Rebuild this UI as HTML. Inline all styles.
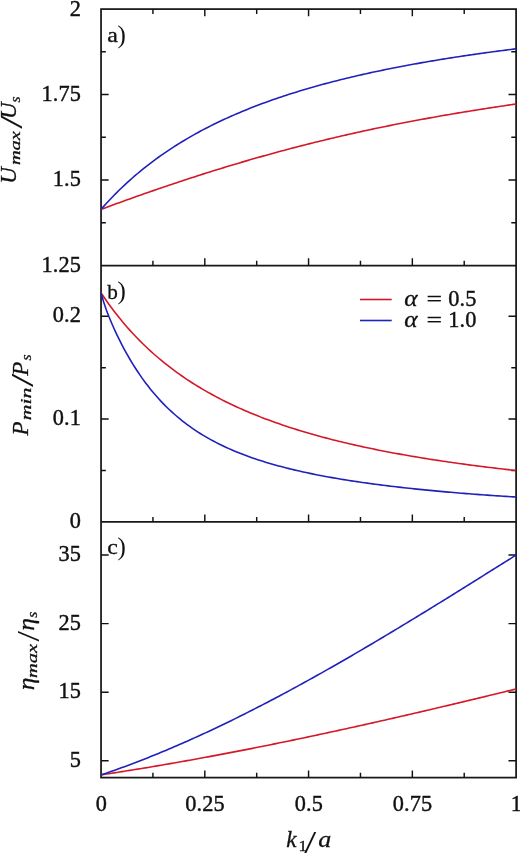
<!DOCTYPE html>
<html lang="en"><head><meta charset="utf-8"><title>Figure</title>
<style>html,body{margin:0;padding:0;background:#fff}svg{display:block}text{font-family:"Liberation Serif","DejaVu Serif",serif;fill:#111;stroke:#111;stroke-width:.3px}.n{font-size:22.3px;letter-spacing:.15px;stroke-width:.42px}.i{font-style:italic}</style></head><body>
<svg width="520" height="853" viewBox="0 0 520 853">
<rect width="520" height="853" fill="#fff"/>
<g fill="none" stroke="#181818" stroke-width="1.75">
<rect x="101.05" y="9.1" width="415.05" height="768.50"/>
<path d="M101.05,265.5H516.1M101.05,521.8H516.1"/>
<path stroke-width="1.45" stroke="#111" d="M152.93,9.1v4.8M152.93,265.5v-4.8M152.93,521.8v-4.8M152.93,777.6v-4.8M204.81,9.1v7.2M204.81,265.5v-7.2M204.81,521.8v-7.2M204.81,777.6v-7.2M256.69,9.1v4.8M256.69,265.5v-4.8M256.69,521.8v-4.8M256.69,777.6v-4.8M308.57,9.1v7.2M308.57,265.5v-7.2M308.57,521.8v-7.2M308.57,777.6v-7.2M360.46,9.1v4.8M360.46,265.5v-4.8M360.46,521.8v-4.8M360.46,777.6v-4.8M412.34,9.1v7.2M412.34,265.5v-7.2M412.34,521.8v-7.2M412.34,777.6v-7.2M464.22,9.1v4.8M464.22,265.5v-4.8M464.22,521.8v-4.8M464.22,777.6v-4.8M101.05,51.83h4.8M516.1,51.83h-4.8M101.05,94.57h7.6M516.1,94.57h-7.6M101.05,137.30h4.8M516.1,137.30h-4.8M101.05,180.03h7.6M516.1,180.03h-7.6M101.05,222.77h4.8M516.1,222.77h-4.8M101.05,316.30h7.6M516.1,316.30h-7.6M101.05,367.68h4.8M516.1,367.68h-4.8M101.05,419.05h7.6M516.1,419.05h-7.6M101.05,470.42h4.8M516.1,470.42h-4.8M101.05,555.00h7.6M516.1,555.00h-7.6M101.05,623.60h7.6M516.1,623.60h-7.6M101.05,692.20h7.6M516.1,692.20h-7.6M101.05,760.80h7.6M516.1,760.80h-7.6"/>
</g>
<g fill="none" stroke-width="1.6" stroke-linejoin="round" stroke-linecap="butt">
<path stroke="#d41828" d="M101.05,209.37 L103.66,208.41 L106.27,207.44 L108.88,206.48 L111.49,205.52 L114.10,204.57 L116.71,203.62 L119.32,202.67 L121.93,201.72 L124.54,200.78 L127.15,199.84 L129.76,198.90 L132.37,197.97 L134.98,197.04 L137.60,196.11 L140.21,195.19 L142.82,194.27 L145.43,193.35 L148.04,192.44 L150.65,191.53 L153.26,190.63 L155.87,189.72 L158.48,188.83 L161.09,187.93 L163.70,187.04 L166.31,186.15 L168.92,185.27 L171.53,184.39 L174.14,183.51 L176.75,182.64 L179.36,181.77 L181.97,180.91 L184.58,180.05 L187.19,179.19 L189.80,178.34 L192.41,177.49 L195.02,176.64 L197.63,175.80 L200.24,174.96 L202.85,174.13 L205.47,173.30 L208.08,172.48 L210.69,171.66 L213.30,170.84 L215.91,170.03 L218.52,169.22 L221.13,168.42 L223.74,167.62 L226.35,166.82 L228.96,166.03 L231.57,165.24 L234.18,164.46 L236.79,163.68 L239.40,162.90 L242.01,162.13 L244.62,161.37 L247.23,160.61 L249.84,159.85 L252.45,159.10 L255.06,158.35 L257.67,157.60 L260.28,156.86 L262.89,156.13 L265.50,155.40 L268.11,154.67 L270.72,153.95 L273.33,153.23 L275.95,152.51 L278.56,151.80 L281.17,151.10 L283.78,150.40 L286.39,149.70 L289.00,149.01 L291.61,148.32 L294.22,147.64 L296.83,146.96 L299.44,146.29 L302.05,145.61 L304.66,144.95 L307.27,144.29 L309.88,143.63 L312.49,142.98 L315.10,142.33 L317.71,141.68 L320.32,141.04 L322.93,140.41 L325.54,139.78 L328.15,139.15 L330.76,138.53 L333.37,137.91 L335.98,137.30 L338.59,136.69 L341.20,136.08 L343.82,135.48 L346.43,134.88 L349.04,134.29 L351.65,133.70 L354.26,133.12 L356.87,132.54 L359.48,131.96 L362.09,131.39 L364.70,130.82 L367.31,130.26 L369.92,129.70 L372.53,129.14 L375.14,128.59 L377.75,128.04 L380.36,127.50 L382.97,126.96 L385.58,126.42 L388.19,125.89 L390.80,125.36 L393.41,124.84 L396.02,124.32 L398.63,123.80 L401.24,123.29 L403.85,122.78 L406.46,122.27 L409.07,121.77 L411.68,121.28 L414.30,120.78 L416.91,120.29 L419.52,119.80 L422.13,119.32 L424.74,118.84 L427.35,118.37 L429.96,117.89 L432.57,117.42 L435.18,116.96 L437.79,116.50 L440.40,116.04 L443.01,115.58 L445.62,115.13 L448.23,114.68 L450.84,114.23 L453.45,113.79 L456.06,113.35 L458.67,112.91 L461.28,112.48 L463.89,112.05 L466.50,111.62 L469.11,111.20 L471.72,110.78 L474.33,110.36 L476.94,109.94 L479.55,109.53 L482.17,109.12 L484.78,108.71 L487.39,108.30 L490.00,107.90 L492.61,107.50 L495.22,107.10 L497.83,106.70 L500.44,106.31 L503.05,105.92 L505.66,105.53 L508.27,105.15 L510.88,104.76 L513.49,104.38 L516.10,104.00"/>
<path stroke="#d41828" d="M101.05,292.90 L103.66,296.78 L106.27,300.55 L108.88,304.21 L111.49,307.77 L114.10,311.23 L116.71,314.60 L119.32,317.87 L121.93,321.06 L124.54,324.16 L127.15,327.18 L129.76,330.12 L132.37,332.98 L134.98,335.78 L137.60,338.50 L140.21,341.15 L142.82,343.74 L145.43,346.26 L148.04,348.73 L150.65,351.13 L153.26,353.48 L155.87,355.77 L158.48,358.01 L161.09,360.20 L163.70,362.34 L166.31,364.42 L168.92,366.47 L171.53,368.46 L174.14,370.41 L176.75,372.32 L179.36,374.19 L181.97,376.02 L184.58,377.81 L187.19,379.56 L189.80,381.28 L192.41,382.96 L195.02,384.60 L197.63,386.21 L200.24,387.79 L202.85,389.34 L205.47,390.85 L208.08,392.34 L210.69,393.80 L213.30,395.23 L215.91,396.63 L218.52,398.00 L221.13,399.35 L223.74,400.68 L226.35,401.98 L228.96,403.25 L231.57,404.50 L234.18,405.73 L236.79,406.94 L239.40,408.12 L242.01,409.28 L244.62,410.43 L247.23,411.55 L249.84,412.65 L252.45,413.74 L255.06,414.80 L257.67,415.85 L260.28,416.88 L262.89,417.89 L265.50,418.88 L268.11,419.86 L270.72,420.82 L273.33,421.77 L275.95,422.70 L278.56,423.62 L281.17,424.52 L283.78,425.41 L286.39,426.28 L289.00,427.14 L291.61,427.98 L294.22,428.81 L296.83,429.63 L299.44,430.44 L302.05,431.24 L304.66,432.02 L307.27,432.79 L309.88,433.55 L312.49,434.30 L315.10,435.03 L317.71,435.76 L320.32,436.47 L322.93,437.18 L325.54,437.87 L328.15,438.56 L330.76,439.23 L333.37,439.90 L335.98,440.55 L338.59,441.20 L341.20,441.84 L343.82,442.47 L346.43,443.09 L349.04,443.70 L351.65,444.30 L354.26,444.90 L356.87,445.48 L359.48,446.06 L362.09,446.63 L364.70,447.20 L367.31,447.75 L369.92,448.30 L372.53,448.84 L375.14,449.38 L377.75,449.91 L380.36,450.43 L382.97,450.94 L385.58,451.45 L388.19,451.95 L390.80,452.45 L393.41,452.94 L396.02,453.42 L398.63,453.90 L401.24,454.37 L403.85,454.83 L406.46,455.29 L409.07,455.74 L411.68,456.19 L414.30,456.64 L416.91,457.07 L419.52,457.51 L422.13,457.93 L424.74,458.36 L427.35,458.77 L429.96,459.19 L432.57,459.59 L435.18,460.00 L437.79,460.39 L440.40,460.79 L443.01,461.18 L445.62,461.56 L448.23,461.94 L450.84,462.32 L453.45,462.69 L456.06,463.06 L458.67,463.42 L461.28,463.78 L463.89,464.14 L466.50,464.49 L469.11,464.84 L471.72,465.18 L474.33,465.52 L476.94,465.86 L479.55,466.19 L482.17,466.52 L484.78,466.85 L487.39,467.17 L490.00,467.49 L492.61,467.81 L495.22,468.12 L497.83,468.43 L500.44,468.74 L503.05,469.04 L505.66,469.34 L508.27,469.64 L510.88,469.93 L513.49,470.22 L516.10,470.51"/>
<path stroke="#d41828" d="M101.05,774.86 L103.66,774.46 L106.27,774.07 L108.88,773.67 L111.49,773.27 L114.10,772.87 L116.71,772.46 L119.32,772.06 L121.93,771.65 L124.54,771.23 L127.15,770.82 L129.76,770.40 L132.37,769.98 L134.98,769.56 L137.60,769.14 L140.21,768.71 L142.82,768.28 L145.43,767.85 L148.04,767.42 L150.65,766.98 L153.26,766.54 L155.87,766.10 L158.48,765.66 L161.09,765.22 L163.70,764.77 L166.31,764.32 L168.92,763.87 L171.53,763.41 L174.14,762.96 L176.75,762.50 L179.36,762.04 L181.97,761.58 L184.58,761.11 L187.19,760.65 L189.80,760.18 L192.41,759.71 L195.02,759.24 L197.63,758.76 L200.24,758.29 L202.85,757.81 L205.47,757.33 L208.08,756.84 L210.69,756.36 L213.30,755.87 L215.91,755.38 L218.52,754.89 L221.13,754.40 L223.74,753.90 L226.35,753.41 L228.96,752.91 L231.57,752.41 L234.18,751.91 L236.79,751.40 L239.40,750.89 L242.01,750.39 L244.62,749.88 L247.23,749.36 L249.84,748.85 L252.45,748.34 L255.06,747.82 L257.67,747.30 L260.28,746.78 L262.89,746.26 L265.50,745.73 L268.11,745.21 L270.72,744.68 L273.33,744.15 L275.95,743.62 L278.56,743.08 L281.17,742.55 L283.78,742.01 L286.39,741.47 L289.00,740.93 L291.61,740.39 L294.22,739.85 L296.83,739.31 L299.44,738.76 L302.05,738.21 L304.66,737.66 L307.27,737.11 L309.88,736.56 L312.49,736.00 L315.10,735.45 L317.71,734.89 L320.32,734.33 L322.93,733.77 L325.54,733.21 L328.15,732.65 L330.76,732.08 L333.37,731.52 L335.98,730.95 L338.59,730.38 L341.20,729.81 L343.82,729.24 L346.43,728.67 L349.04,728.09 L351.65,727.52 L354.26,726.94 L356.87,726.36 L359.48,725.78 L362.09,725.20 L364.70,724.62 L367.31,724.03 L369.92,723.45 L372.53,722.86 L375.14,722.27 L377.75,721.68 L380.36,721.09 L382.97,720.50 L385.58,719.91 L388.19,719.32 L390.80,718.72 L393.41,718.12 L396.02,717.53 L398.63,716.93 L401.24,716.33 L403.85,715.73 L406.46,715.13 L409.07,714.52 L411.68,713.92 L414.30,713.31 L416.91,712.71 L419.52,712.10 L422.13,711.49 L424.74,710.88 L427.35,710.27 L429.96,709.66 L432.57,709.05 L435.18,708.43 L437.79,707.82 L440.40,707.20 L443.01,706.59 L445.62,705.97 L448.23,705.35 L450.84,704.73 L453.45,704.11 L456.06,703.49 L458.67,702.87 L461.28,702.25 L463.89,701.62 L466.50,701.00 L469.11,700.37 L471.72,699.75 L474.33,699.12 L476.94,698.49 L479.55,697.86 L482.17,697.23 L484.78,696.60 L487.39,695.97 L490.00,695.34 L492.61,694.71 L495.22,694.07 L497.83,693.44 L500.44,692.81 L503.05,692.17 L505.66,691.54 L508.27,690.90 L510.88,690.26 L513.49,689.62 L516.10,688.99"/>
<path stroke="#2020bb" d="M101.05,209.35 L103.66,206.40 L106.27,203.52 L108.88,200.70 L111.49,197.95 L114.10,195.26 L116.71,192.62 L119.32,190.05 L121.93,187.53 L124.54,185.06 L127.15,182.65 L129.76,180.29 L132.37,177.98 L134.98,175.71 L137.60,173.50 L140.21,171.32 L142.82,169.19 L145.43,167.11 L148.04,165.06 L150.65,163.06 L153.26,161.09 L155.87,159.16 L158.48,157.27 L161.09,155.42 L163.70,153.60 L166.31,151.81 L168.92,150.06 L171.53,148.34 L174.14,146.65 L176.75,144.99 L179.36,143.36 L181.97,141.76 L184.58,140.19 L187.19,138.65 L189.80,137.13 L192.41,135.64 L195.02,134.17 L197.63,132.73 L200.24,131.32 L202.85,129.92 L205.47,128.56 L208.08,127.21 L210.69,125.88 L213.30,124.58 L215.91,123.30 L218.52,122.04 L221.13,120.80 L223.74,119.58 L226.35,118.38 L228.96,117.19 L231.57,116.03 L234.18,114.88 L236.79,113.75 L239.40,112.64 L242.01,111.55 L244.62,110.47 L247.23,109.41 L249.84,108.36 L252.45,107.33 L255.06,106.32 L257.67,105.31 L260.28,104.33 L262.89,103.36 L265.50,102.40 L268.11,101.45 L270.72,100.52 L273.33,99.60 L275.95,98.70 L278.56,97.80 L281.17,96.92 L283.78,96.05 L286.39,95.20 L289.00,94.35 L291.61,93.52 L294.22,92.70 L296.83,91.89 L299.44,91.08 L302.05,90.29 L304.66,89.51 L307.27,88.74 L309.88,87.98 L312.49,87.23 L315.10,86.49 L317.71,85.76 L320.32,85.04 L322.93,84.33 L325.54,83.62 L328.15,82.93 L330.76,82.24 L333.37,81.57 L335.98,80.90 L338.59,80.23 L341.20,79.58 L343.82,78.94 L346.43,78.30 L349.04,77.67 L351.65,77.05 L354.26,76.43 L356.87,75.82 L359.48,75.22 L362.09,74.63 L364.70,74.04 L367.31,73.46 L369.92,72.89 L372.53,72.32 L375.14,71.76 L377.75,71.20 L380.36,70.66 L382.97,70.11 L385.58,69.58 L388.19,69.05 L390.80,68.52 L393.41,68.01 L396.02,67.49 L398.63,66.99 L401.24,66.48 L403.85,65.99 L406.46,65.50 L409.07,65.01 L411.68,64.53 L414.30,64.06 L416.91,63.59 L419.52,63.12 L422.13,62.66 L424.74,62.20 L427.35,61.75 L429.96,61.31 L432.57,60.86 L435.18,60.43 L437.79,59.99 L440.40,59.57 L443.01,59.14 L445.62,58.72 L448.23,58.31 L450.84,57.89 L453.45,57.49 L456.06,57.08 L458.67,56.68 L461.28,56.29 L463.89,55.90 L466.50,55.51 L469.11,55.12 L471.72,54.74 L474.33,54.37 L476.94,53.99 L479.55,53.62 L482.17,53.26 L484.78,52.89 L487.39,52.53 L490.00,52.18 L492.61,51.83 L495.22,51.48 L497.83,51.13 L500.44,50.79 L503.05,50.45 L505.66,50.11 L508.27,49.78 L510.88,49.45 L513.49,49.12 L516.10,48.79"/>
<path stroke="#2020bb" d="M101.05,292.90 L103.66,302.06 L106.27,309.70 L108.88,316.51 L111.49,322.79 L114.10,328.71 L116.71,334.33 L119.32,339.70 L121.93,344.84 L124.54,349.76 L127.15,354.48 L129.76,359.02 L132.37,363.37 L134.98,367.54 L137.60,371.55 L140.21,375.41 L142.82,379.11 L145.43,382.67 L148.04,386.09 L150.65,389.39 L153.26,392.55 L155.87,395.60 L158.48,398.53 L161.09,401.36 L163.70,404.08 L166.31,406.70 L168.92,409.22 L171.53,411.66 L174.14,414.01 L176.75,416.27 L179.36,418.45 L181.97,420.56 L184.58,422.60 L187.19,424.57 L189.80,426.47 L192.41,428.30 L195.02,430.08 L197.63,431.80 L200.24,433.46 L202.85,435.07 L205.47,436.62 L208.08,438.13 L210.69,439.59 L213.30,441.00 L215.91,442.38 L218.52,443.71 L221.13,445.00 L223.74,446.25 L226.35,447.46 L228.96,448.64 L231.57,449.79 L234.18,450.90 L236.79,451.98 L239.40,453.04 L242.01,454.06 L244.62,455.06 L247.23,456.03 L249.84,456.97 L252.45,457.89 L255.06,458.78 L257.67,459.65 L260.28,460.50 L262.89,461.33 L265.50,462.14 L268.11,462.93 L270.72,463.70 L273.33,464.45 L275.95,465.19 L278.56,465.90 L281.17,466.60 L283.78,467.29 L286.39,467.95 L289.00,468.61 L291.61,469.25 L294.22,469.87 L296.83,470.49 L299.44,471.08 L302.05,471.67 L304.66,472.24 L307.27,472.81 L309.88,473.36 L312.49,473.90 L315.10,474.43 L317.71,474.95 L320.32,475.45 L322.93,475.95 L325.54,476.44 L328.15,476.92 L330.76,477.39 L333.37,477.85 L335.98,478.31 L338.59,478.75 L341.20,479.19 L343.82,479.62 L346.43,480.04 L349.04,480.45 L351.65,480.86 L354.26,481.26 L356.87,481.65 L359.48,482.04 L362.09,482.42 L364.70,482.79 L367.31,483.16 L369.92,483.52 L372.53,483.88 L375.14,484.22 L377.75,484.57 L380.36,484.91 L382.97,485.24 L385.58,485.57 L388.19,485.89 L390.80,486.21 L393.41,486.52 L396.02,486.82 L398.63,487.13 L401.24,487.42 L403.85,487.72 L406.46,488.01 L409.07,488.29 L411.68,488.57 L414.30,488.85 L416.91,489.12 L419.52,489.39 L422.13,489.65 L424.74,489.91 L427.35,490.17 L429.96,490.42 L432.57,490.67 L435.18,490.91 L437.79,491.15 L440.40,491.39 L443.01,491.63 L445.62,491.86 L448.23,492.09 L450.84,492.31 L453.45,492.53 L456.06,492.75 L458.67,492.97 L461.28,493.18 L463.89,493.39 L466.50,493.59 L469.11,493.80 L471.72,494.00 L474.33,494.20 L476.94,494.39 L479.55,494.58 L482.17,494.77 L484.78,494.96 L487.39,495.15 L490.00,495.33 L492.61,495.51 L495.22,495.68 L497.83,495.86 L500.44,496.03 L503.05,496.20 L505.66,496.37 L508.27,496.53 L510.88,496.70 L513.49,496.86 L516.10,497.02"/>
<path stroke="#2020bb" d="M101.05,774.92 L103.66,774.03 L106.27,773.14 L108.88,772.24 L111.49,771.33 L114.10,770.41 L116.71,769.48 L119.32,768.54 L121.93,767.60 L124.54,766.64 L127.15,765.68 L129.76,764.70 L132.37,763.72 L134.98,762.73 L137.60,761.73 L140.21,760.72 L142.82,759.70 L145.43,758.68 L148.04,757.64 L150.65,756.60 L153.26,755.55 L155.87,754.49 L158.48,753.42 L161.09,752.34 L163.70,751.26 L166.31,750.17 L168.92,749.07 L171.53,747.96 L174.14,746.85 L176.75,745.72 L179.36,744.59 L181.97,743.45 L184.58,742.30 L187.19,741.15 L189.80,739.99 L192.41,738.82 L195.02,737.64 L197.63,736.46 L200.24,735.27 L202.85,734.07 L205.47,732.86 L208.08,731.65 L210.69,730.43 L213.30,729.20 L215.91,727.97 L218.52,726.73 L221.13,725.48 L223.74,724.22 L226.35,722.96 L228.96,721.70 L231.57,720.42 L234.18,719.14 L236.79,717.85 L239.40,716.56 L242.01,715.26 L244.62,713.95 L247.23,712.64 L249.84,711.32 L252.45,710.00 L255.06,708.66 L257.67,707.33 L260.28,705.98 L262.89,704.63 L265.50,703.28 L268.11,701.92 L270.72,700.55 L273.33,699.18 L275.95,697.80 L278.56,696.42 L281.17,695.03 L283.78,693.64 L286.39,692.24 L289.00,690.83 L291.61,689.42 L294.22,688.01 L296.83,686.59 L299.44,685.16 L302.05,683.73 L304.66,682.30 L307.27,680.86 L309.88,679.41 L312.49,677.96 L315.10,676.51 L317.71,675.05 L320.32,673.59 L322.93,672.12 L325.54,670.65 L328.15,669.17 L330.76,667.69 L333.37,666.20 L335.98,664.71 L338.59,663.22 L341.20,661.72 L343.82,660.22 L346.43,658.71 L349.04,657.20 L351.65,655.69 L354.26,654.17 L356.87,652.65 L359.48,651.12 L362.09,649.59 L364.70,648.06 L367.31,646.52 L369.92,644.98 L372.53,643.44 L375.14,641.90 L377.75,640.35 L380.36,638.79 L382.97,637.24 L385.58,635.68 L388.19,634.11 L390.80,632.55 L393.41,630.98 L396.02,629.41 L398.63,627.84 L401.24,626.26 L403.85,624.68 L406.46,623.10 L409.07,621.51 L411.68,619.92 L414.30,618.34 L416.91,616.74 L419.52,615.15 L422.13,613.55 L424.74,611.95 L427.35,610.35 L429.96,608.75 L432.57,607.14 L435.18,605.53 L437.79,603.92 L440.40,602.31 L443.01,600.70 L445.62,599.09 L448.23,597.47 L450.84,595.85 L453.45,594.23 L456.06,592.61 L458.67,590.99 L461.28,589.36 L463.89,587.74 L466.50,586.11 L469.11,584.48 L471.72,582.85 L474.33,581.22 L476.94,579.59 L479.55,577.96 L482.17,576.32 L484.78,574.69 L487.39,573.05 L490.00,571.42 L492.61,569.78 L495.22,568.14 L497.83,566.50 L500.44,564.87 L503.05,563.23 L505.66,561.59 L508.27,559.95 L510.88,558.31 L513.49,556.67 L516.10,555.03"/>
<path stroke="#d41828" d="M360,299.5H391.7"/>
<path stroke="#2020bb" d="M360,320.5H391.7"/>
</g>
<text class="n" x="81.0" y="15.5" text-anchor="end">2</text>
<text class="n" x="81.0" y="100.7" text-anchor="end">1.75</text>
<text class="n" x="81.0" y="186.1" text-anchor="end">1.5</text>
<text class="n" x="81.0" y="271.6" text-anchor="end">1.25</text>
<text class="n" x="81.0" y="322.4" text-anchor="end">0.2</text>
<text class="n" x="81.0" y="425.0" text-anchor="end">0.1</text>
<text class="n" x="81.0" y="527.9" text-anchor="end">0</text>
<text class="n" x="81.0" y="561.1" text-anchor="end">35</text>
<text class="n" x="81.0" y="629.7" text-anchor="end">25</text>
<text class="n" x="81.0" y="698.3" text-anchor="end">15</text>
<text class="n" x="81.0" y="766.9" text-anchor="end">5</text>
<text class="n" x="101.3" y="811.3" text-anchor="middle">0</text>
<text class="n" x="205.1" y="811.3" text-anchor="middle">0.25</text>
<text class="n" x="308.9" y="811.3" text-anchor="middle">0.5</text>
<text class="n" x="412.6" y="811.3" text-anchor="middle">0.75</text>
<text class="n" x="516.4" y="811.3" text-anchor="middle">1</text>
<text x="107.3" y="42.4" font-size="21.4" textLength="10.6" lengthAdjust="spacingAndGlyphs">a</text>
<text x="117.5" y="43.1" font-size="25" style="stroke:none">)</text>
<text x="107.3" y="298.7" font-size="21.4" textLength="10.6" lengthAdjust="spacingAndGlyphs">b</text>
<text x="117.5" y="299.4" font-size="25" style="stroke:none">)</text>
<text x="107.3" y="554.1" font-size="21.4" textLength="10.6" lengthAdjust="spacingAndGlyphs">c</text>
<text x="117.5" y="554.8" font-size="25" style="stroke:none">)</text>
<text class="i" x="404.2" y="305.9" font-size="23" textLength="13.3" lengthAdjust="spacingAndGlyphs">α</text>
<text x="426.4" y="305.9" font-size="21.5" textLength="15.6" lengthAdjust="spacingAndGlyphs">=</text>
<text class="n" x="448.2" y="305.9">0.5</text>
<text class="i" x="404.2" y="326.9" font-size="23" textLength="13.3" lengthAdjust="spacingAndGlyphs">α</text>
<text x="426.4" y="326.9" font-size="21.5" textLength="15.6" lengthAdjust="spacingAndGlyphs">=</text>
<text class="n" x="448.2" y="326.9">1.0</text>
<text class="i" x="286.3" y="847.3" font-size="23">k</text>
<text x="298.6" y="850.6" font-size="15.5" textLength="8.6" lengthAdjust="spacingAndGlyphs">1</text>
<text x="304.2" y="852.9" font-size="32" textLength="12" lengthAdjust="spacingAndGlyphs" style="stroke:none">/</text>
<text class="i" x="318.2" y="847.3" font-size="23" textLength="13" lengthAdjust="spacingAndGlyphs">a</text>
<g transform="translate(16.2 183.3) rotate(-90)">
<text class="i" x="-0.5" y="0" font-size="23">U</text>
<text class="i" x="18.2" y="3.4" font-size="15.5" textLength="34" lengthAdjust="spacingAndGlyphs">max</text>
<text x="54.6" y="5.6" font-size="32" textLength="13.5" lengthAdjust="spacingAndGlyphs" style="stroke:none">/</text>
<text class="i" x="64.4" y="0" font-size="23">U</text>
<text class="i" x="80.8" y="3.4" font-size="15.5">s</text>
</g>
<g transform="translate(27.8 436) rotate(-90)">
<text class="i" x="0.5" y="0" font-size="23">P</text>
<text class="i" x="15.8" y="3.4" font-size="15.5" textLength="32.6" lengthAdjust="spacingAndGlyphs">min</text>
<text x="49" y="5.6" font-size="32" textLength="13.5" lengthAdjust="spacingAndGlyphs" style="stroke:none">/</text>
<text class="i" x="60.2" y="0" font-size="23">P</text>
<text class="i" x="75.5" y="3.4" font-size="15.5">s</text>
</g>
<g transform="translate(33.6 688.2) rotate(-90)">
<text class="i" x="-2.0" y="0" font-size="23" textLength="12.6" lengthAdjust="spacingAndGlyphs">η</text>
<text class="i" x="10.3" y="3.4" font-size="15.5" textLength="34" lengthAdjust="spacingAndGlyphs">max</text>
<text x="46.6" y="5.6" font-size="32" textLength="10.5" lengthAdjust="spacingAndGlyphs" style="stroke:none">/</text>
<text class="i" x="57.4" y="0" font-size="23" textLength="12.6" lengthAdjust="spacingAndGlyphs">η</text>
<text class="i" x="70.4" y="3.4" font-size="15.5">s</text>
</g>
</svg></body></html>
